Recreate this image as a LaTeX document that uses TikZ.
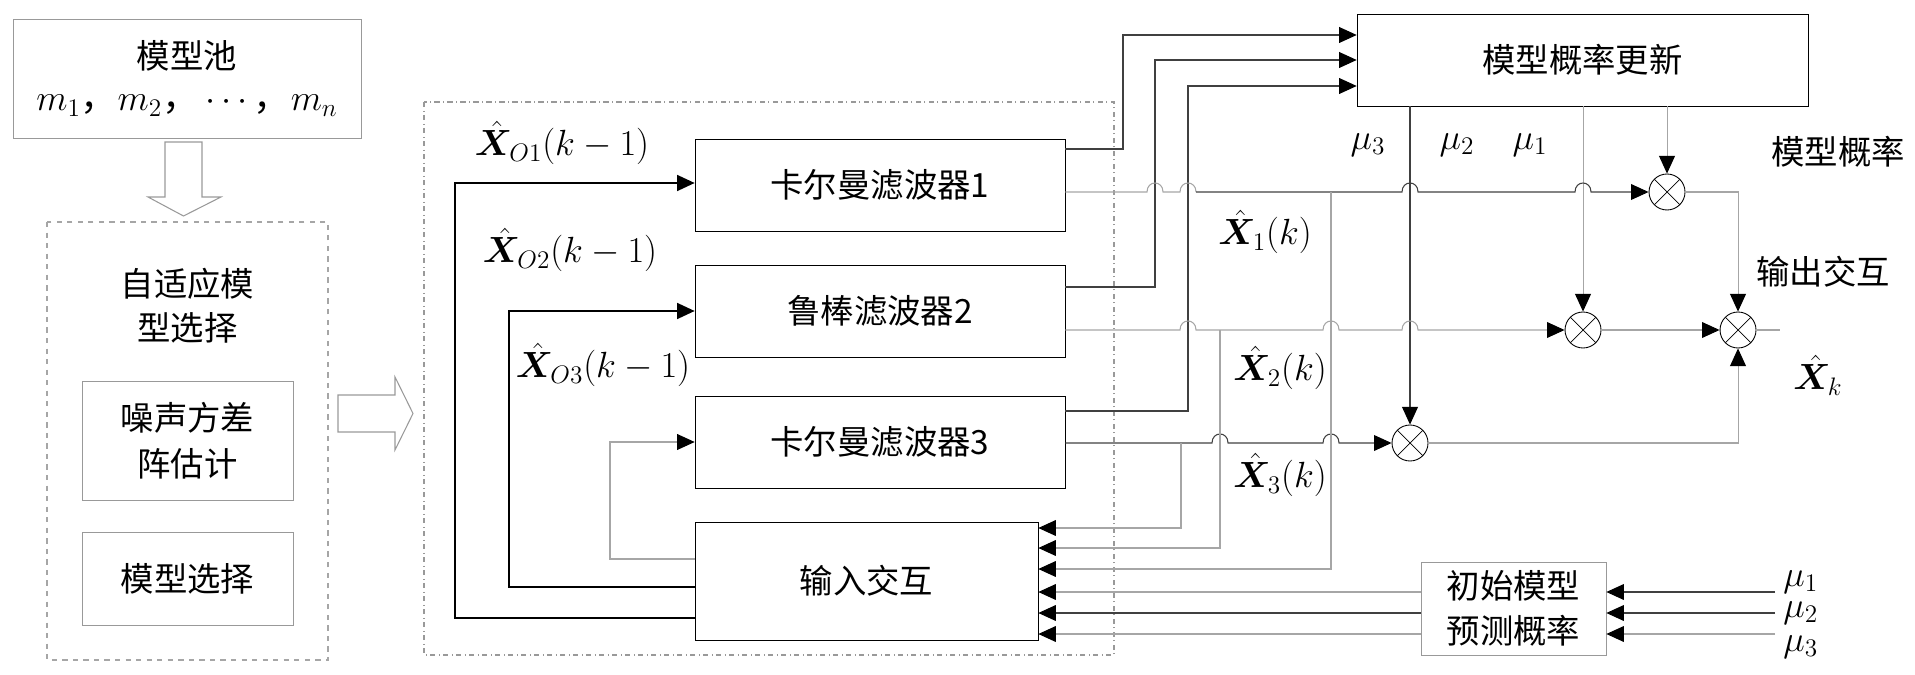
\documentclass[tikz,border=0pt]{standalone}
\usepackage{amsmath,bm}
\usepackage{fontspec}
\newfontfamily\cjk{Noto Sans CJK SC}
\usetikzlibrary{arrows.meta,calc}
\newcommand\hop[2]{-- (#1-8,#2) .. controls (#1-8,#2-12) and (#1+8,#2-12) .. (#1+8,#2)}
\begin{document}
\begin{tikzpicture}[x=0.02cm,y=-0.02cm,
  box/.style={draw,inner sep=0pt,align=center,font=\cjk\fontsize{19}{26}\selectfont},
  gbox/.style={box,draw=gray!80},
  lab/.style={inner sep=0pt,font=\fontsize{21}{25}\selectfont},
  clab/.style={inner sep=0pt,font=\cjk\fontsize{19}{23}\selectfont},
  tip/.style={-{Triangle[length=10pt,width=9pt,color=black]}},
  sig/.style={line width=0.6pt,draw=black!75},
  gsig/.style={line width=0.6pt,draw=gray!70},
  fb/.style={line width=1.2pt},
  mult/.style={circle,draw,line width=0.5pt,minimum size=0.72cm,inner sep=0pt,
    path picture={\draw[line width=0.4pt] (path picture bounding box.north west)--(path picture bounding box.south east)
      (path picture bounding box.north east)--(path picture bounding box.south west);}}]
\useasboundingbox (0,0) rectangle (1915,675);
% left part
\node[gbox,minimum width=6.96cm,minimum height=2.38cm] (pool) at (187,78.5) {模型池\\[-2pt]\fontsize{21}{25}\selectfont$m_1$，$m_2$，\,$\cdots$，$m_n$};
\draw[gray!80,line width=0.6pt] (165,142)--(202,142)--(202,197)--(221,197)--(183.5,216)--(148,197)--(165,197)--cycle;
\draw[gray!70,dashed,line width=0.6pt] (47,222) rectangle (328,660);
\node[clab,align=center] (ada) at (187.5,306) {自适应模\\[2pt]型选择};
\node[gbox,minimum width=4.22cm,minimum height=2.38cm] (noise) at (187.5,440.5) {噪声方差\\阵估计};
\node[gbox,minimum width=4.22cm,minimum height=1.86cm] (msel) at (187.5,578.5) {模型选择};
\draw[gray!80,line width=0.6pt] (338,395)--(395,395)--(395,377)--(413,413.5)--(395,450)--(395,432)--(338,432)--cycle;
\draw[gray!80,dash dot,line width=0.6pt] (424,102) rectangle (1114,655);
% boxes
\node[box,minimum width=7.4cm,minimum height=1.84cm] (k1) at (880,185) {卡尔曼滤波器1};
\node[box,minimum width=7.4cm,minimum height=1.84cm] (k2) at (880,311) {鲁棒滤波器2};
\node[box,minimum width=7.4cm,minimum height=1.84cm] (k3) at (880,442) {卡尔曼滤波器3};
\node[box,minimum width=6.86cm,minimum height=2.36cm] (inp) at (866.5,581) {输入交互};
\node[box,minimum width=9.02cm,minimum height=1.84cm] (mpu) at (1582.5,60) {模型概率更新};
\node[gbox,minimum width=3.7cm,minimum height=1.86cm] (init) at (1513.5,608.5) {初始模型\\预测概率};
% feedback
\draw[fb,tip] (inp.west|-0,618) -- (455,618) -- (455,183) -- (k1.west|-0,183);
\draw[fb,tip] (inp.west|-0,587) -- (509,587) -- (509,311) -- (k2.west);
\draw[gsig,tip] (inp.west|-0,559) -- (610,559) -- (610,442) -- (k3.west);
\node[lab] (lo1) at (562,143) {$\hat{\bm X}_{O1}(k-1)$};
\node[lab] (lo2) at (570,250) {$\hat{\bm X}_{O2}(k-1)$};
\node[lab] (lo3) at (603,365) {$\hat{\bm X}_{O3}(k-1)$};
% to MPU
\draw[sig,tip] (k1.east|-0,149) -- (1123,149) -- (1123,35) -- (mpu.west|-0,35);
\draw[sig,tip] (k2.east|-0,287) -- (1155,287) -- (1155,60) -- (mpu.west|-0,60);
\draw[sig,tip] (k3.east|-0,411) -- (1188,411) -- (1188,86) -- (mpu.west|-0,86);
% multipliers
\node[mult] (m1) at (1667,192) {};
\node[mult] (m2) at (1583,330) {};
\node[mult] (m4) at (1738,330) {};
\node[mult] (m3) at (1410,443) {};
\draw[sig,tip] (mpu.south-|m3) -- (m3.north);
\draw[gsig,tip] (mpu.south-|m2) -- (m2.north);
\draw[gsig,tip] (mpu.south-|m1) -- (m1.north);
\node[lab] (mu3) at (1368,145) {$\mu_3$};
\node[lab] (mu2) at (1457,145) {$\mu_2$};
\node[lab] (mu1) at (1530,145) {$\mu_1$};
\node[clab] (lp) at (1838,152) {模型概率};
\node[clab] (lo) at (1823,272) {输出交互};
\node[lab] (xk) at (1818,375) {$\hat{\bm X}_k$};
% state lines
\draw[gsig] (k1.east|-0,192) \hop{1155}{192} \hop{1188}{192};
\draw[sig,tip] (1196,192) \hop{1410}{192} \hop{1583}{192} -- (m1.west);
\draw[gsig,tip] (k2.east|-0,330) \hop{1188}{330} \hop{1331}{330} \hop{1410}{330} -- (m2.west);
\draw[sig,tip] (k3.east|-0,443) \hop{1220}{443} \hop{1331}{443} -- (m3.west);
\draw[gsig,tip] (1331,192) -- (1331,569) -- (inp.east|-0,569);
\draw[gsig,tip] (1220,330) -- (1220,548) -- (inp.east|-0,548);
\draw[gsig,tip] (1181,443) -- (1181,528) -- (inp.east|-0,528);
\node[lab] (x1) at (1265,232) {$\hat{\bm X}_1(k)$};
\node[lab] (x2) at (1280,368) {$\hat{\bm X}_2(k)$};
\node[lab] (x3) at (1280,475) {$\hat{\bm X}_3(k)$};
\draw[gsig,tip] (m1.east) -- (m1.east-|m4) -- (m4.north);
\draw[gsig,tip] (m2.east) -- (m4.west);
\draw[gsig] (m4.east) -- (1780,330);
\draw[gsig,tip] (m3.east) -- (m3.east-|m4) -- (m4.south);
% bottom
\draw[gsig,tip] (init.west|-0,592) -- (inp.east|-0,592);
\draw[sig,tip] (init.west|-0,613) -- (inp.east|-0,613);
\draw[gsig,tip] (init.west|-0,634) -- (inp.east|-0,634);
\draw[sig,tip] (1775,592) -- (init.east|-0,592);
\draw[sig,tip] (1775,613) -- (init.east|-0,613);
\draw[gsig,tip] (1775,634) -- (init.east|-0,634);
\node[lab,anchor=west] (u1) at (1783,582) {$\mu_1$};
\node[lab,anchor=west] (u2) at (1783,613) {$\mu_2$};
\node[lab,anchor=west] (u3) at (1783,647) {$\mu_3$};
\end{tikzpicture}
\end{document}
